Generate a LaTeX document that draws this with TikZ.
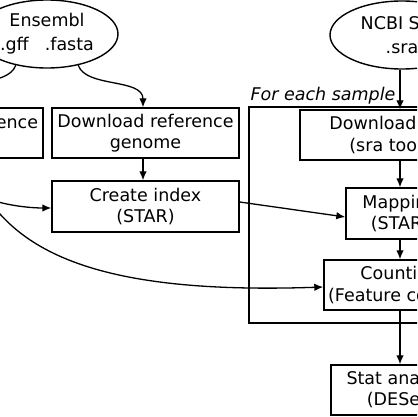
\documentclass[tikz,border=0pt]{standalone}
\usepackage{fontspec}
\setmainfont{DejaVu Sans}
\usetikzlibrary{shapes.geometric,arrows.meta}
\tikzset{
  stepbox/.style={draw, rectangle, inner sep=0pt, align=center, line width=1.4pt,
    font=\fontsize{17.5}{21.5}\selectfont},
  srcell/.style={draw, ellipse, inner sep=0pt, align=center, line width=1.4pt,
    font=\fontsize{17.5}{24}\selectfont},
  conn/.style={line width=1.3pt, -{Latex[length=9pt,width=7.5pt]}},
}
\begin{document}
\begin{tikzpicture}[x=1pt,y=-1pt]
\useasboundingbox (0,0) rectangle (417,417);
\clip (0,0) rectangle (417,417);
% sources
\node[srcell, minimum width=142pt, minimum height=68pt] (ens) at (47,34) {Ensembl\\.gff\hspace{16pt}.fasta};
\node[srcell, minimum width=144pt, minimum height=68pt] (ncbi) at (402,35) {NCBI SRA\\.sra};
% reference steps
\node[stepbox, minimum width=186pt, minimum height=50pt] (annot) at (-50,133) {Download reference\\annotation};
\node[stepbox, minimum width=187pt, minimum height=50pt] (dlgen) at (145.5,133) {Download reference\\genome};
\node[stepbox, minimum width=187pt, minimum height=51pt] (create) at (145.5,206.5) {Create index\\(STAR)};
% per-sample frame
\node[draw, line width=1.4pt, inner sep=0pt, minimum width=251pt, minimum height=216pt] (frame) at (374.5,215) {};
\node[anchor=south west, inner sep=2pt, font=\fontsize{17.5}{21}\selectfont\itshape] (fes) at (frame.north west) {For each sample};
\node[stepbox, minimum width=200pt, minimum height=50pt] (dlsra) at (400,135) {Download reads\\(sra toolkit)};
\node[stepbox, minimum width=108pt, minimum height=51pt] (map) at (400,213.5) {Mapping\\(STAR)};
\node[stepbox, minimum width=152pt, minimum height=50pt] (count) at (400,285) {Counting\\(Feature counts)};
\node[stepbox, minimum width=143pt, minimum height=50pt] (stat) at (402.5,390) {Stat analysis\\(DESeq)};
% connectors
\draw[conn] (ens.-45) .. controls (86,88) and (143,78) .. ([xshift=-2.5pt]dlgen.north);
\draw[conn] (ens.-135) .. controls (8,88) and (-49,78) .. (annot.north);
\draw[conn] ([xshift=-2.5pt]dlgen.south) -- ([xshift=-2.5pt]create.north);
\draw[conn] (annot.south) .. controls (-50,200) and (20,208) .. ([yshift=-1.5pt]create.west);
\draw[conn] ([xshift=18pt]annot.south) .. controls (0,250) and (90,295) .. ([yshift=-2pt]count.west);
\draw[conn] ([yshift=4.5pt]create.east) -- ([yshift=-3.5pt]map.west);
\draw[conn] (ncbi.south -| dlsra.north) -- (dlsra.north);
\draw[conn] (dlsra.south) -- (map.north);
\draw[conn] (map.south) -- (count.north);
\draw[conn] ([xshift=-2.5pt]stat.north |- count.south) -- ([xshift=-2.5pt]stat.north);
\end{tikzpicture}
\end{document}
